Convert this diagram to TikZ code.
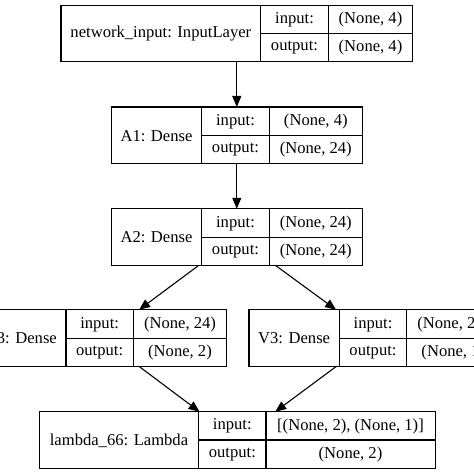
\documentclass[tikz,border=0pt]{standalone}
\usepackage{fontspec}
\setmainfont{Liberation Serif}
\usetikzlibrary{arrows.meta}
\begin{document}
\begin{tikzpicture}[x=1pt,y=-1pt,
  recbox/.style={draw,line width=1.1pt,minimum width=#1,inner sep=0pt,outer sep=0pt,minimum height=56.5pt},
  cell/.style={inner sep=0pt,font=\fontsize{16.6}{18}\selectfont},
  divline/.style={line width=1.1pt},
  edge/.style={line width=1.1pt,-{Triangle[length=11pt,width=9pt]}}]
\useasboundingbox (0,0) rectangle (474,474);
\fill[white] (0,0) rectangle (474,474);
\clip (0,0) rectangle (474,474);
% boxes
\node[recbox=351.7pt] (inp) at (236.8,33.3) {};
\node[recbox=251pt] (a1) at (236.8,135.2) {};
\node[recbox=251pt] (a2) at (236.8,237) {};
\node[recbox=251pt] (a3) at (101.2,338) {};
\node[recbox=251pt] (v3) at (374.5,338) {};
\node[recbox=395.7pt] (lam) at (237.2,440) {};
% dividers
\draw[divline] (260.7,5) -- (260.7,61.7) (328.3,5) -- (328.3,61.7) (260.7,33.3) -- (412.7,33.3);
\draw[divline] (201.7,106.7) -- (201.7,163.7) (269.3,106.7) -- (269.3,163.7) (201.7,135.2) -- (362.3,135.2);
\draw[divline] (201.7,208.75) -- (201.7,265.25) (269.3,208.75) -- (269.3,265.25) (201.7,237.3) -- (362.3,237.3);
\draw[divline] (66,309.75) -- (66,366.25) (133.3,309.75) -- (133.3,366.25) (66,338.7) -- (226.7,338.7);
\draw[divline] (339.3,309.75) -- (339.3,366.25) (406.7,309.75) -- (406.7,366.25) (339.3,338.7) -- (500,338.7);
\draw[divline] (198.7,411.75) -- (198.7,468.25) (266,411.75) -- (266,468.25) (198.7,440) -- (435,440);
% texts
\node[cell] (inpn) at (160.85,33.8) {network\_input: InputLayer};
\node[cell] (inpi) at (294.5,19.5) {input:};
\node[cell] (inpo) at (294.5,47.8) {output:};
\node[cell] (inpiv) at (370.5,19.5) {(None, 4)};
\node[cell] (inpov) at (370.5,47.8) {(None, 4)};
\node[cell] (a1n) at (156.5,135.7) {A1: Dense};
\node[cell] (a1i) at (235.5,121.3) {input:};
\node[cell] (a1o) at (235.5,149.7) {output:};
\node[cell] (a1iv) at (315.8,121.3) {(None, 4)};
\node[cell] (a1ov) at (315.8,149.7) {(None, 24)};
\node[cell] (a2n) at (156.5,237.5) {A2: Dense};
\node[cell] (a2i) at (235.5,223.3) {input:};
\node[cell] (a2o) at (235.5,251.5) {output:};
\node[cell] (a2iv) at (315.8,223.3) {(None, 24)};
\node[cell] (a2ov) at (315.8,251.5) {(None, 24)};
\node[cell] (a3n) at (20.9,338.5) {A3: Dense};
\node[cell] (a3i) at (99.65,324.6) {input:};
\node[cell] (a3o) at (99.65,352.6) {output:};
\node[cell] (a3iv) at (180,324.6) {(None, 24)};
\node[cell] (a3ov) at (180,352.6) {(None, 2)};
\node[cell] (v3n) at (294.15,338.5) {V3: Dense};
\node[cell] (v3i) at (373,324.6) {input:};
\node[cell] (v3o) at (373,352.6) {output:};
\node[cell] (v3iv) at (453.3,324.6) {(None, 24)};
\node[cell] (v3ov) at (453.3,352.6) {(None, 1)};
\node[cell] (lamn) at (119,440.5) {lambda\_66: Lambda};
\node[cell] (lami) at (232.35,426.1) {input:};
\node[cell] (lamo) at (232.35,454.5) {output:};
\node[cell] (lamiv) at (350.5,426.1) {[(None, 2), (None, 1)]};
\node[cell] (lamov) at (350.5,454.5) {(None, 2)};
% edges
\draw[edge] (inp) -- (a1);
\draw[edge] (a1) -- (a2);
\draw[edge] (a2) -- (a3);
\draw[edge] (a2) -- (v3);
\draw[edge] (a3) -- (lam);
\draw[edge] (v3) -- (lam);
\end{tikzpicture}
\end{document}
